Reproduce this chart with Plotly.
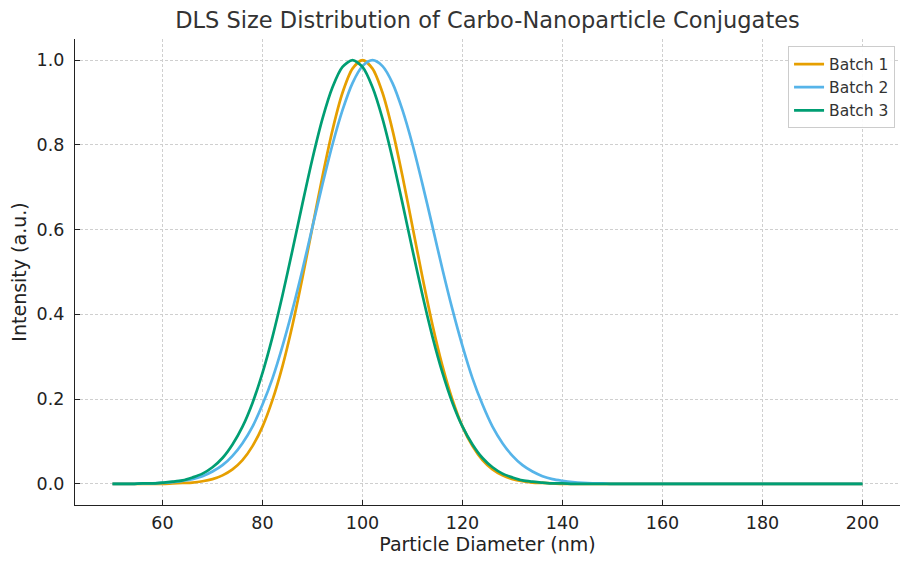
import plotly.graph_objects as go

diameter = list(range(50, 152, 2)) + [160, 170, 180, 190, 200]

batch1 = [0, 0, 0, 0, 0, 0.000, 0.001, 0.002, 0.003, 0.006, 0.011, 0.020, 0.034, 0.056, 0.089,
          0.135, 0.198, 0.278, 0.375, 0.487, 0.607, 0.726, 0.835, 0.923, 0.980, 1.000,
          0.980, 0.923, 0.835, 0.726, 0.607, 0.487, 0.375, 0.278, 0.198, 0.135,
          0.089, 0.056, 0.034, 0.020, 0.011, 0.006, 0.003, 0.002, 0.001, 0.000,
          0, 0, 0, 0, 0,
          0, 0, 0, 0, 0]

batch2 = [0, 0, 0, 0.001, 0.001, 0.002, 0.004, 0.007, 0.011, 0.018, 0.029, 0.044, 0.066, 0.096, 0.135,
          0.187, 0.249, 0.325, 0.411, 0.506, 0.607, 0.707, 0.801, 0.882, 0.946, 0.986,
          1.000, 0.986, 0.946, 0.882, 0.801, 0.707, 0.607, 0.506, 0.411, 0.325,
          0.249, 0.187, 0.135, 0.096, 0.066, 0.044, 0.029, 0.018, 0.011, 0.007,
          0.004, 0.002, 0.001, 0.001, 0.000,
          0, 0, 0, 0, 0]

batch3 = [0, 0, 0, 0.001, 0.001, 0.003, 0.005, 0.008, 0.015, 0.024, 0.039, 0.061, 0.093, 0.135, 0.191,
          0.262, 0.347, 0.445, 0.552, 0.662, 0.768, 0.862, 0.936, 0.984, 1.000, 0.984,
          0.936, 0.862, 0.768, 0.662, 0.552, 0.445, 0.347, 0.262, 0.191, 0.135,
          0.093, 0.061, 0.039, 0.024, 0.015, 0.008, 0.005, 0.003, 0.001, 0.001,
          0, 0, 0, 0, 0,
          0, 0, 0, 0, 0]

series_names = ["Batch 1", "Batch 2", "Batch 3"]
series_colors = ["#E69F00", "#56B4E9", "#009E73"]
x_ticks = [60, 80, 100, 120, 140, 160, 180, 200]
y_ticks = [0.0, 0.2, 0.4, 0.6, 0.8, 1.0]

FONT = "DejaVu Sans"

fig = go.Figure()
for name, ys, col in zip(series_names, [batch1, batch2, batch3], series_colors):
    fig.add_trace(go.Scatter(x=diameter, y=ys, mode="lines", name=name,
                             line=dict(color=col, width=2.7, shape="spline", smoothing=0.8)))

axis_common = dict(showline=True, linecolor="#222222", linewidth=1.3, mirror=False,
                   ticks="inside", ticklen=5, tickwidth=1.1, tickcolor="#222222",
                   showgrid=True, gridcolor="#cfcfcf", griddash="3px,2px", gridwidth=0.8,
                   zeroline=False, tickfont=dict(family=FONT, size=17.5, color="#222222"))

fig.update_layout(
    width=914, height=567,
    margin=dict(l=75, r=14, t=39, b=62),
    paper_bgcolor="white", plot_bgcolor="white",
    title=dict(text="DLS Size Distribution of Carbo-Nanoparticle Conjugates",
               x=(75 + 900) / 2 / 914, xanchor="center", y=1 - 20 / 567, yanchor="middle",
               font=dict(family=FONT, size=22.5, color="#333333")),
    xaxis=dict(range=[42.5, 207.5], tickvals=x_ticks, ticktext=[str(v) for v in x_ticks],
               ticklabelstandoff=2,
               title=dict(text="Particle Diameter (nm)", font=dict(family=FONT, size=19, color="#222222"),
                          standoff=4),
               **axis_common),
    yaxis=dict(range=[-0.05, 1.05], tickvals=y_ticks, ticktext=[f"{v:.1f}" for v in y_ticks],
               ticklabelstandoff=6,
               title=dict(text="Intensity (a.u.)", font=dict(family=FONT, size=19, color="#222222"),
                          standoff=4),
               **axis_common),
    legend=dict(x=0.994, y=0.984, xanchor="right", yanchor="top",
                bgcolor="rgba(255,255,255,0.9)", bordercolor="#cccccc", borderwidth=1,
                font=dict(family=FONT, size=15.5, color="#333333"), tracegroupgap=0),
    showlegend=True,
)

fig.write_html("out.html")
